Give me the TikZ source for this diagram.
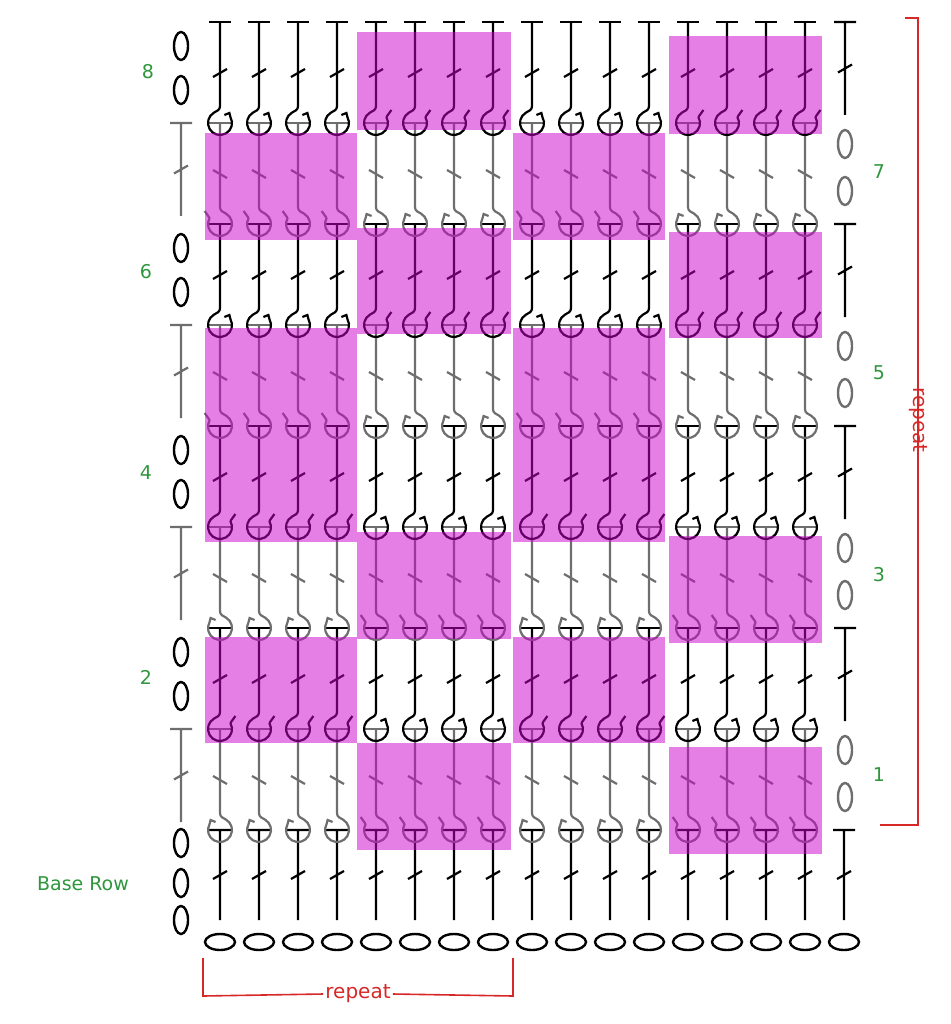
\documentclass[tikz,border=0pt]{standalone}
\usepackage{fontspec}
\setmainfont{DejaVu Sans}
\definecolor{lab}{RGB}{46,150,60}
\definecolor{rep}{RGB}{215,40,40}
\definecolor{gr}{RGB}{110,110,110}
\definecolor{sh}{RGB}{204,0,204}
\tikzset{st/.style={line width=2.2pt,line cap=butt},
 shade/.style={fill=sh,fill opacity=0.5,draw=none},
 lbl/.style={text=lab,font=\fontsize{19}{22}\selectfont},
 rl/.style={text=rep,font=\fontsize{20}{24}\selectfont}}
% post stitch: #1 x, #2 ybottom, #3 mirror, #4 colour, #5 variant (1 tail, 0 curl)
\newcommand{\pst}[5]{%
 \begin{scope}[shift={(#1,#2)},yscale=-1,xscale=#3,#4,st]
  \draw (0,101) -- (0,17) .. controls (0,13) and (-3,12) .. (120:12)
     arc[start angle=120,end angle=390,radius=12];
  \ifnum#5=1 \draw (30:12) -- ++(5,7);\else \draw (30:12) -- ++(-1,4) -- ++(-5,-2);\fi
  \draw (-11,101) -- (11,101);
  \draw (-7,46) -- (7,54);
 \end{scope}}
\newcommand{\dcs}[4]{% x, ytop, ybottom, colour
 \draw[st,#4] (#1-11,#2) -- (#1+11,#2) (#1,#2) -- (#1,#3)
   (#1-7,{(#2+#3)/2+4}) -- (#1+7,{(#2+#3)/2-4});}
\newcommand{\ch}[3]{\draw[st,#3,line width=2.4pt] (#1,#2) ellipse[x radius=7,y radius=14];}
\begin{document}
\begin{tikzpicture}[x=1pt,y=-1pt]
\useasboundingbox (0,0) rectangle (950,1024);
\foreach \i in {0,...,16} \draw[st,line width=2.4pt] ({220+39*\i},942) ellipse[x radius=15,y radius=8];
\foreach \i in {0,...,16} {\dcs{220+39*\i}{830}{920}{black}}
\foreach \y in {843,883,920} {\ch{181}{\y}{black}}
\foreach \r in {1,...,8}{
 \pgfmathtruncatemacro\yt{830-101*\r}
 \pgfmathtruncatemacro\yb{\yt+101}
 \pgfmathtruncatemacro\ybb{\yt+93}
 \pgfmathtruncatemacro\odd{mod(\r,2)}
 \pgfmathtruncatemacro\grpA{(\r==1)||(\r==3)||(\r==6)||(\r==8)}
 \ifnum\odd=1 \def\mycol{gr}\def\mir{-1}\else\def\mycol{black}\def\mir{1}\fi
 \foreach \i in {0,...,15}{
   \pgfmathtruncatemacro\blk{mod(floor(\i/4),2)}
   \pgfmathtruncatemacro\var{\blk==\grpA ? 1 : 0}
   \pgfmathtruncatemacro\xx{220+39*\i}
   \pst{\xx}{\yb}{\mir}{\mycol}{\var}
 }
 \ifnum\odd=1
   \dcs{181}{\yt}{\ybb}{gr}
   \ch{845}{\yt+21}{gr}\ch{845}{\yt+68}{gr}
 \else
   \dcs{845}{\yt}{\ybb}{black}
   \ch{181}{\yt+24}{black}\ch{181}{\yt+68}{black}
 \fi
}
\foreach \r/\a/\b in {1/743/850,2/637/743,3/532/639,4/435/542,5/328/435,6/228/334,7/133/240,8/32/130}{
 \pgfmathtruncatemacro\grpA{(\r==1)||(\r==3)||(\r==6)||(\r==8)}
 \ifnum\grpA=1
  \fill[shade] (357,\a) rectangle (511,\b);
  \fill[shade] (669,\a+4) rectangle (822,\b+4);
 \else
  \fill[shade] (205,\a) rectangle (357,\b);
  \fill[shade] (513,\a) rectangle (665,\b);
 \fi}
\node[lbl] (l8) at (148,72) {8};
\node[lbl] (l6) at (146,272) {6};
\node[lbl] (l4) at (146,473) {4};
\node[lbl] (l2) at (146,677) {2};
\node[lbl] (l7) at (879,172) {7};
\node[lbl] (l5) at (879,373) {5};
\node[lbl] (l3) at (879,575) {3};
\node[lbl] (l1) at (879,775) {1};
\node[lbl] (lb) at (83,884) {Base Row};
\node[rl,rotate=-90,fill=white,inner sep=2pt] (rv) at (918,420) {repeat};
\draw[rep,line width=1.6pt] (905,18) -- (918,18) -- (rv.east);
\draw[rep,line width=1.6pt] (rv.west) -- (918,825) -- (880,825);
\node[rl,fill=white,inner sep=2pt] (rh) at (358,994) {repeat};
\draw[rep,line width=1.6pt] (203,958) -- (203,996) -- (rh.west);
\draw[rep,line width=1.6pt] (rh.east) -- (513,996) -- (513,958);
\end{tikzpicture}
\end{document}
